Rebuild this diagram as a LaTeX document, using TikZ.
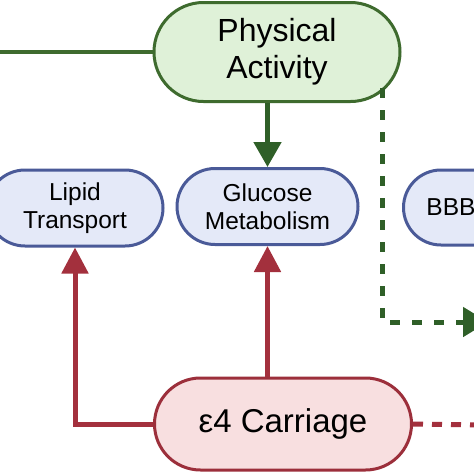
\documentclass[tikz,border=0pt]{standalone}
\usepackage{fontspec}
\setmainfont{Liberation Sans}
\usetikzlibrary{arrows.meta,calc,shapes.misc}
\definecolor{gborder}{HTML}{3E6B2E}
\definecolor{gfill}{HTML}{DFF1D8}
\definecolor{garr}{HTML}{2F5F28}
\definecolor{bborder}{HTML}{4A5A98}
\definecolor{bfill}{HTML}{E4E9F8}
\definecolor{rborder}{HTML}{9C2F3B}
\definecolor{rfill}{HTML}{F8DFE0}
\definecolor{rarr}{HTML}{A3303D}
\tikzset{
  pill/.style={rounded rectangle, draw, line width=3pt, align=center, inner sep=0pt},
  greenbox/.style={pill, draw=gborder, fill=gfill},
  bluebox/.style={pill, draw=bborder, fill=bfill},
  redbox/.style={pill, draw=rborder, fill=rfill},
  garrow/.style={draw=garr, line width=5pt, -{Triangle[width=27pt,length=25pt]}},
  gdash/.style={draw=garr, line width=5pt, dash pattern=on 10pt off 12pt, -{Triangle[width=29pt,length=25pt]}},
  gline/.style={draw=gborder, line width=3.5pt},
  rarrow/.style={draw=rarr, line width=5pt, -{Triangle[width=26pt,length=26pt]}},
  rdash/.style={draw=rarr, line width=5pt, dash pattern=on 10pt off 9pt},
}
\begin{document}
\begin{tikzpicture}[x=1pt,y=-1pt]
\useasboundingbox (0,0) rectangle (474,474);
\clip (0,0) rectangle (474,474);
\fill[white] (0,0) rectangle (474,474);
\coordinate (lend) at (-10,52);
\coordinate (dstart) at (382,88);
\coordinate (dend) at (488,322);
\coordinate (rend) at (480,425);
\node[greenbox, minimum width=246pt, minimum height=99pt, font=\fontsize{32}{37}\selectfont] (pa) at (277,52) {Physical\\Activity};
\node[bluebox, minimum width=176pt, minimum height=76pt, font=\fontsize{24.5}{28}\selectfont] (lt) at (75,208) {Lipid\\Transport};
\node[bluebox, minimum width=181pt, minimum height=76pt, font=\fontsize{24.5}{28}\selectfont] (gl) at (267.5,206.5) {Glucose\\Metabolism};
\node[bluebox, anchor=west, text width=136pt, align=left, inner xsep=22pt, minimum height=75pt, font=\fontsize{24.5}{28}\selectfont] (bbb) at (402,207.5) {BBB};
\node[redbox, minimum width=257pt, minimum height=92pt, font=\fontsize{33}{38}\selectfont] (ec) at (283,424) {ε4 Carriage};
\draw[gline] (pa.west) -- (lend);
\draw[garrow] (gl.north |- pa.south) -- (gl.north);
\draw[gdash] (dstart) |- (dend);
\draw[rarrow] (ec.west) -| (lt.south);
\draw[rarrow] (gl.south |- ec.north) -- (gl.south);
\draw[rdash] (ec.east) -- (rend);
\end{tikzpicture}
\end{document}
